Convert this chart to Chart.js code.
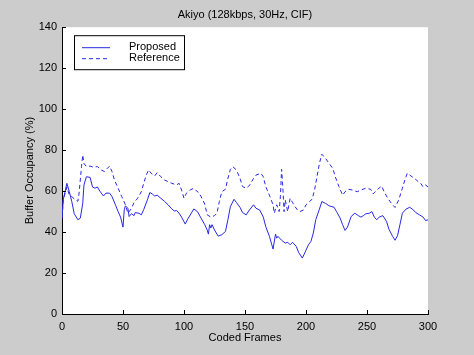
<!DOCTYPE html>
<html>
<head>
<meta charset="utf-8">
<script src="https://cdn.jsdelivr.net/npm/chart.js@4"></script>
<style>
html,body{margin:0;padding:0;background:#cccccc;}
#wrap{width:474px;height:355px;}
</style>
</head>
<body>
<div id="wrap"><canvas id="c" width="474" height="355"></canvas></div>
<script>
const chartTitle = "Akiyo (128kbps, 30Hz, CIF)";
const xTitle = "Coded Frames";
const yTitle = "Buffer Occupancy (%)";
const seriesNames = ["Proposed", "Reference"];

const proposedX = [0,1,4,6,8,10,13,15,17,18,20,23,25,27,29,31,34,36,39,41,44,46,48,50,51,52,54,55,57,59,60,63,65,67,70,72,74,76,78,81,84,87,90,92,94,96,98,101,103,106,108,111,114,117,119,120,121,122,123,125,128,131,134,136,138,141,143,146,148,151,153,157,159,162,165,167,170,173,175,176,177,180,183,185,187,189,192,194,197,199,202,204,206,208,211,213,216,219,223,225,228,230,232,234,237,240,243,245,247,249,252,254,256,258,260,263,266,268,271,273,275,277,279,282,285,288,290,293,296,298,300];
const proposedY = [46.5,55.7,63.8,59.7,55,49,46,46.8,54,63,67,66.7,62,61.4,62,60,57.6,59,59,57.3,53,50,47.3,42.4,50.8,52.8,51.6,47.6,49,48,49.5,49.2,48.4,51,55.7,59.3,58.6,57.6,58,56.5,55,53.3,51.3,50.3,50.5,49.2,47.3,43.9,46.3,49.2,51.3,50,46.8,43.6,41,39,43.6,42,43.6,41,38,38.7,40.3,46,52.4,56,54.4,52,49.5,48.4,50.3,53.3,51.6,50.8,47.3,42.7,37.9,31.7,39,37,37.9,36,34.6,35,33.8,35,33,30,27.3,29.8,33.8,35.4,39.5,46,51.2,54.9,54,52.8,52.1,50,46.8,43.6,40.8,42.4,47.6,49.2,48,47.3,48,48.9,49.2,50,47.3,46,47.3,48,45.2,41.4,37.9,36,38.2,43.6,49.2,51.2,52.1,50.8,49.5,48.4,47.3,45.6,46];

const referenceX = [0,1,4,6,8,11,13,14,16,17,18,20,23,26,29,32,35,37,39,41,43,46,49,52,54,57,59,62,65,67,69,71,73,76,78,81,84,87,90,94,96,98,100,102,105,108,110,112,114,117,119,122,125,127,129,131,134,136,138,140,143,146,148,151,154,157,159,163,165,167,170,173,174,176,178,179,180,181,182,183,185,187,189,191,193,195,198,200,203,205,207,209,211,213,216,219,222,224,227,230,232,235,238,242,245,249,253,255,258,262,264,267,270,273,276,279,281,283,286,289,292,294,296,298,300];
const referenceY = [47,55.7,62,58,57.3,55.7,55,59,72,77.6,73.5,72,72.2,71.6,72,70.3,69.5,71,72.2,69.5,65.4,61.4,57.3,53.3,49.2,51.6,54.4,56.5,59.7,63.8,67.8,70.3,68.7,67.4,69,67,65.4,64.6,63.8,63,63.8,60.5,56.5,59,60.5,61.4,60.2,59.3,57.3,53.7,48.4,47.3,48,49.2,55,59.7,60.9,66.2,70.6,71.9,70.3,66,62.2,61.4,63,66.2,67.8,68.7,67,62.2,58,53.3,49.2,53.3,50,57.3,70.6,62,50,55.7,50,56.5,54.4,52.4,50.8,50,50.8,53.3,55,56,60.5,67,73.5,78,76,73.5,71,67,62.2,58,59.7,60.9,60.5,59.7,60.5,61.4,60.9,58.6,60.5,62.5,59.7,56.5,54,52,55.7,61.4,65.4,68.7,67.4,66.2,64.6,63.8,62,63,62];

const xTicks = [0,50,100,150,200,250,300];
const yTicks = [0,20,40,60,80,100,120,140];

const lineColor = 'rgb(40,40,230)';
const fontFamily = '"Liberation Sans", Arial, Helvetica, sans-serif';

function toPoints(xs, ys){ return xs.map((x,i)=>({x:x, y:ys[i]})); }

const bgPlugin = {
  id: 'bg',
  beforeDraw(chart){
    const {ctx, chartArea:a} = chart;
    ctx.save();
    ctx.fillStyle = '#cccccc';
    ctx.fillRect(0,0,chart.width,chart.height);
    ctx.fillStyle = '#ffffff';
    ctx.fillRect(a.left, a.top, a.right-a.left, a.bottom-a.top);
    ctx.restore();
  },
  afterDraw(chart){
    const {ctx, chartArea:a, scales} = chart;
    ctx.save();
    ctx.strokeStyle = '#000';
    ctx.lineWidth = 1;
    ctx.beginPath();
    // inward ticks
    scales.x.ticks.forEach(t=>{
      const px = Math.round(scales.x.getPixelForValue(t.value))+0.5;
      ctx.moveTo(px, a.bottom); ctx.lineTo(px, a.bottom-4);
    });
    scales.y.ticks.forEach(t=>{
      const py = Math.round(scales.y.getPixelForValue(t.value))+0.5;
      ctx.moveTo(a.left, py); ctx.lineTo(a.left+4, py);
    });
    ctx.stroke();
    // legend
    const bx = a.left+12, by = a.top+8, bw = 110, bh = 34;
    ctx.fillStyle = '#fff';
    ctx.fillRect(bx, by, bw, bh);
    ctx.strokeStyle = '#000';
    ctx.strokeRect(bx+0.5, by+0.5, bw, bh);
    ctx.font = '11px ' + fontFamily;
    ctx.textBaseline = 'middle';
    ctx.textAlign = 'left';
    chart.data.datasets.forEach((ds,i)=>{
      const ly = by + 12 + i*11;
      ctx.strokeStyle = ds.borderColor;
      ctx.lineWidth = 1;
      ctx.setLineDash(ds.borderDash || []);
      ctx.beginPath();
      ctx.moveTo(bx+8, ly+0.5); ctx.lineTo(bx+36, ly+0.5);
      ctx.stroke();
      ctx.setLineDash([]);
      ctx.fillStyle = '#000';
      ctx.fillText(ds.label, bx+55, ly);
    });
    ctx.restore();
  }
};

new Chart(document.getElementById('c'), {
  type: 'line',
  data: {
    datasets: [
      { label: seriesNames[0], data: toPoints(proposedX, proposedY), borderColor: lineColor, borderWidth: 1, pointRadius: 0, tension: 0, fill: false },
      { label: seriesNames[1], data: toPoints(referenceX, referenceY), borderColor: lineColor, borderWidth: 1, borderDash: [4,3], pointRadius: 0, tension: 0, fill: false }
    ]
  },
  options: {
    responsive: false,
    animation: false,
    devicePixelRatio: 1,
    layout: { padding: { left: 0, right: 46, top: 0, bottom: 0 } },
    plugins: {
      legend: { display: false },
      tooltip: { enabled: false },
      title: {
        display: true, text: chartTitle, fullSize: false, color: '#000',
        font: { family: fontFamily, size: 11, weight: 'normal' },
        padding: { top: 8, bottom: 6 }
      }
    },
    scales: {
      x: {
        type: 'linear', min: 0, max: 300,
        afterFit(s){ s.height = 41; },
        afterBuildTicks(s){ s.ticks = xTicks.map(v=>({value:v})); },
        grid: { display: false, drawTicks: false },
        border: { display: true, color: '#000', width: 1 },
        ticks: { color: '#000', padding: 6, maxRotation: 0, font: { family: fontFamily, size: 11 } },
        title: { display: true, text: xTitle, color: '#000', font: { family: fontFamily, size: 11 }, padding: { top: 0, bottom: 10 } }
      },
      y: {
        type: 'linear', min: 0, max: 140,
        afterFit(s){ s.width = 62; },
        afterBuildTicks(s){ s.ticks = yTicks.map(v=>({value:v})); },
        grid: { display: false, drawTicks: false },
        border: { display: true, color: '#000', width: 1 },
        ticks: { color: '#000', padding: 5, font: { family: fontFamily, size: 11 } },
        title: { display: true, text: yTitle, color: '#000', font: { family: fontFamily, size: 11 }, padding: { top: 23, bottom: 0 } }
      }
    }
  },
  plugins: [bgPlugin]
});
</script>
</body>
</html>
